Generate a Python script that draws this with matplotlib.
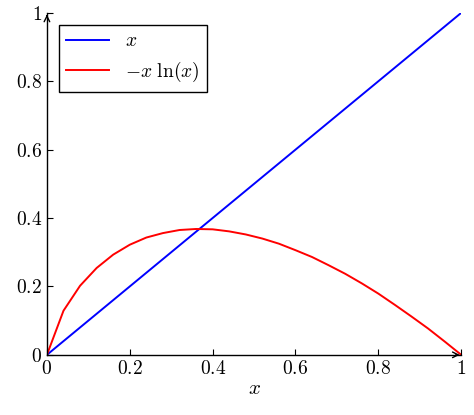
import matplotlib
matplotlib.use("Agg")
import matplotlib.pyplot as plt

plt.rcParams['mathtext.fontset'] = 'cm'
plt.rcParams['font.family'] = 'serif'
plt.rcParams['font.serif'] = ['DejaVu Serif']

x_line = [0, 1]
y_line = [0, 1]
x_red = [0, 0.04, 0.08, 0.12, 0.16, 0.20, 0.24, 0.28, 0.32, 0.36, 0.40, 0.44, 0.48,
         0.52, 0.56, 0.60, 0.64, 0.68, 0.72, 0.76, 0.80, 0.84, 0.88, 0.92, 0.96, 1.00]
y_red = [0, 0.129, 0.202, 0.254, 0.293, 0.322, 0.343, 0.356, 0.365, 0.368, 0.367, 0.361, 0.352,
         0.340, 0.325, 0.306, 0.286, 0.262, 0.237, 0.209, 0.179, 0.146, 0.112, 0.077, 0.039, 0]
ticks = [0, 0.2, 0.4, 0.6, 0.8, 1]
tick_labels = ['$0$', '$0.2$', '$0.4$', '$0.6$', '$0.8$', '$1$']

fig = plt.figure(figsize=(4.74, 4.15), dpi=100)
ax = fig.add_axes([0.099, 0.145, 0.874, 0.824])
ax.plot(x_line, y_line, color='#0000ff', lw=1.4, label='$x$')
ax.plot(x_red, y_red, color='#ff0000', lw=1.4, label=r'$-x\ \ln(x)$')
ax.set_xlim(0, 1)
ax.set_ylim(0, 1)
ax.spines['top'].set_visible(False)
ax.spines['right'].set_visible(False)
for s in ('left', 'bottom'):
    ax.spines[s].set_linewidth(1.0)
ax.set_xticks(ticks)
ax.set_xticklabels(tick_labels, fontsize=14)
ax.set_yticks(ticks)
ax.set_yticklabels(tick_labels, fontsize=14)
ax.tick_params(direction='in', length=4, width=0.8)
ax.annotate('', xy=(1.003, 0), xytext=(0.98, 0), xycoords='axes fraction',
            arrowprops=dict(arrowstyle='->', lw=1.0, color='k'))
ax.annotate('', xy=(0, 1.003), xytext=(0, 0.98), xycoords='axes fraction',
            arrowprops=dict(arrowstyle='->', lw=1.0, color='k'))
ax.set_xlabel('$x$', fontsize=15, labelpad=1)
leg = ax.legend(loc='upper left', fontsize=14, fancybox=False, edgecolor='black',
                framealpha=1, borderaxespad=0.6, handlelength=2.2)
leg.get_frame().set_linewidth(1.0)
fig.savefig('out.png', dpi=100)
